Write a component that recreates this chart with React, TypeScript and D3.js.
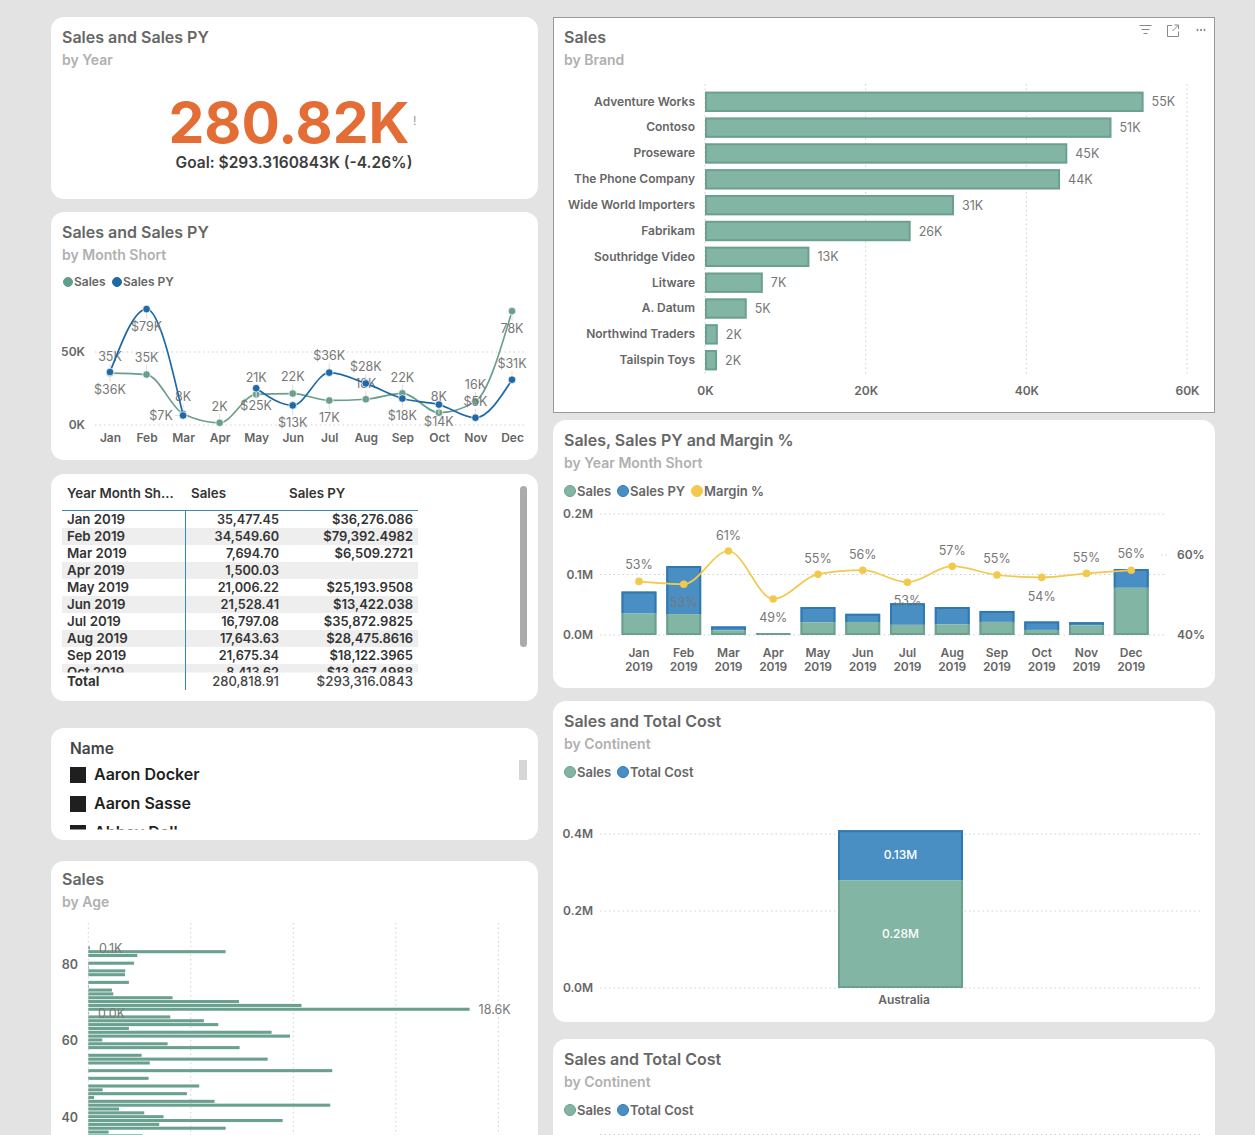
import { useEffect, useRef } from "react"
import * as d3 from "d3"

const FONT = "Inter, 'Open Sans', sans-serif"

const months = ["Jan", "Feb", "Mar", "Apr", "May", "Jun", "Jul", "Aug", "Sep", "Oct", "Nov", "Dec"]
const sales = [35.48, 34.55, 7.69, 1.5, 21.01, 21.53, 16.8, 17.64, 21.68, 8.41, 16.2, 78.0]
const salesPY = [36.28, 79.39, 6.51, null, 25.19, 13.42, 35.87, 28.48, 18.12, 13.97, 5.0, 31.0]
const margin = [0.534, 0.527, 0.61, 0.49, 0.552, 0.562, 0.532, 0.572, 0.55, 0.544, 0.554, 0.562]

const brands = [
  "Adventure Works", "Contoso", "Proseware", "The Phone Company", "Wide World Importers", "Fabrikam",
  "Southridge Video", "Litware", "A. Datum", "Northwind Traders", "Tailspin Toys",
]
const brandSales = [54.6, 50.6, 45.1, 44.2, 31.0, 25.6, 13.0, 7.2, 5.2, 1.6, 1.5]

const tableMonths = ["Jan 2019", "Feb 2019", "Mar 2019", "Apr 2019", "May 2019", "Jun 2019", "Jul 2019", "Aug 2019", "Sep 2019", "Oct 2019"]
const tableSales = ["35,477.45", "34,549.60", "7,694.70", "1,500.03", "21,006.22", "21,528.41", "16,797.08", "17,643.63", "21,675.34", "8,413.62"]
const tablePY = ["$36,276.086", "$79,392.4982", "$6,509.2721", "", "$25,193.9508", "$13,422.038", "$35,872.9825", "$28,475.8616", "$18,122.3965", "$13,967.4988"]

const names = ["Aaron Docker", "Aaron Sasse", "Abbey Dell"]

const ages = [84, 83, 82, 80, 79, 78, 77, 75, 74, 73, 72, 71, 70, 69, 68, 67, 66, 65, 64, 63, 62, 61, 60, 59, 58, 56, 55, 54, 52, 50, 48, 47, 46, 45, 44, 43, 42, 41, 40, 39, 38, 37, 36, 35]
const ageSales = [0.08, 6.7, 2.39, 2.23, 0.03, 1.8, 1.79, 1.98, 0.03, 1.15, 1.22, 4.11, 7.35, 10.4, 18.6, 0.03, 4.0, 5.64, 6.34, 1.98, 8.94, 9.84, 0.68, 3.87, 7.38, 2.6, 8.75, 3.0, 11.9, 2.94, 5.41, 0.7, 4.81, 0.28, 6.16, 11.8, 1.5, 2.73, 3.67, 9.48, 3.46, 6.7, 0.99, 2.65]
const labelledAges = [84, 68, 67]

const continentSales = 0.28
const continentCost = 0.13

// label offsets from the point, per month
const salesLabelDy = [-17, -17, -17, -16, -17, -17, 17, -16, -16, -16, -17, 17]
const pyLabelDy = [17, 17, 0, 0, 17, 17, -17, -17, 17, 17, -16, -16]
const marginLabelDy = [-17, 18, -16, 18, -16, -16, 18, -16, -17, 19, -16, -17]

const C_SALES = "#82b5a4"
const C_SALES_DARK = "#6b9f8e"
const C_PY = "#4a8fc4"
const C_PY_DARK = "#2f78b2"
const C_LINE_PY = "#1f6aa5"
const C_MARGIN = "#f2c94c"
const GRID = "#cfcfcf"
const LABEL = "#777777"
const AXIS = "#666666"

type G = d3.Selection<SVGGElement, unknown, null, undefined>

function txt(g: G, x: number, y: number, s: string, size: number, weight: number, fill: string, anchor = "start") {
  return g.append("text")
    .attr("x", x).attr("y", y)
    .attr("font-size", size).attr("font-weight", weight)
    .attr("fill", fill).attr("text-anchor", anchor)
    .text(s)
}

function title(g: G, x: number, y: number, a: string, b: string) {
  txt(g, x, y, a, 16, 600, "#666666")
  txt(g, x, y + 22, b, 14, 600, "#b0b0b0")
}

function dotted(g: G, x1: number, y1: number, x2: number, y2: number) {
  g.append("line")
    .attr("x1", x1).attr("y1", y1).attr("x2", x2).attr("y2", y2)
    .attr("stroke", GRID).attr("stroke-width", 1).attr("stroke-dasharray", "1.5 3")
}

function legendDot(g: G, x: number, y: number, r: number, color: string, dark: string, label: string, size: number) {
  g.append("circle").attr("cx", x).attr("cy", y).attr("r", r).attr("fill", color).attr("stroke", dark).attr("stroke-width", 1)
  txt(g, x + r + 1.5, y + size * 0.36, label, size, 600, "#666666")
}

// stacked segment: fill plus an inner edge on three sides, the side facing the other segment stays open
function segment(g: G, x: number, y0: number, y1: number, w: number, fill: string, stroke: string, sw: number, open: "top" | "bottom") {
  g.append("rect").attr("x", x).attr("y", y0).attr("width", w).attr("height", y1 - y0).attr("fill", fill)
  const p = d3.path()
  const i = sw / 2
  if (open === "bottom") {
    p.moveTo(x + i, y1)
    p.lineTo(x + i, y0 + i)
    p.lineTo(x + w - i, y0 + i)
    p.lineTo(x + w - i, y1)
  } else {
    p.moveTo(x + i, y0)
    p.lineTo(x + i, y1 - i)
    p.lineTo(x + w - i, y1 - i)
    p.lineTo(x + w - i, y0)
  }
  g.append("path").attr("d", p.toString()).attr("fill", "none").attr("stroke", stroke).attr("stroke-width", sw)
}

// d3 axis without the domain and tick marks, text styled like the rest of the page
function styleAxis(sel: G, size: number, weight: number, fill: string) {
  sel.attr("font-family", FONT)
  sel.select(".domain").remove()
  sel.selectAll(".tick line").remove()
  sel.selectAll("text").attr("font-size", size).attr("font-weight", weight).attr("fill", fill)
}

export default function App() {
  const svgRef = useRef<SVGSVGElement>(null)

  useEffect(() => {
    const svg = d3.select(svgRef.current)
    svg.selectAll("*").remove()
    const root = svg.append("g").attr("font-family", FONT) as unknown as G

    // Clip paths for the cut off table row and slicer row
    const defs = svg.append("defs")
    defs.append("clipPath").attr("id", "table-clip").append("rect").attr("x", 55).attr("y", 511).attr("width", 370).attr("height", 161.5)
    defs.append("clipPath").attr("id", "slicer-clip").append("rect").attr("x", 55).attr("y", 760).attr("width", 460).attr("height", 69.5)

    // Cards
    const cards = [
      [51, 17, 487, 182], [51, 212, 487, 248], [51, 474, 487, 227], [51, 728, 487, 112], [51, 861, 487, 300],
      [553, 420, 662, 268], [553, 701, 662, 321], [553, 1039, 662, 120],
    ]
    root.selectAll("rect.card").data(cards).enter().append("rect")
      .attr("class", "card")
      .attr("x", d => d[0]).attr("y", d => d[1]).attr("width", d => d[2]).attr("height", d => d[3])
      .attr("rx", 13).attr("fill", "white")
    root.append("rect").attr("x", 553.5).attr("y", 17.5).attr("width", 661).attr("height", 395)
      .attr("fill", "white").attr("stroke", "#9a9a9a").attr("stroke-width", 1)

    // KPI card
    title(root, 62, 43, "Sales and Sales PY", "by Year")
    txt(root, 289, 143, "280.82K", 57, 700, "#e46c35", "middle")
    txt(root, 413, 125, "!", 12, 400, "#999999")
    txt(root, 294, 168, "Goal: $293.3160843K (-4.26%)", 15.5, 600, "#3d3d3d", "middle")

    // Monthly line chart
    title(root, 62, 238, "Sales and Sales PY", "by Month Short")
    legendDot(root, 68, 282, 4.5, "#5f9e8f", "#5f9e8f", "Sales", 12)
    legendDot(root, 117, 282, 4.5, C_LINE_PY, C_LINE_PY, "Sales PY", 12)

    const xMonth = d3.scalePoint<string>().domain(months).range([110, 512])
    const yMonth = d3.scaleLinear().domain([0, 50]).range([425, 352])
    yMonth.ticks(1).forEach(t => dotted(root, 95, yMonth(t), 527, yMonth(t)))
    const monthAxisY = root.append("g").attr("transform", "translate(85,0)")
      .call(d3.axisLeft(yMonth).tickValues([0, 50]).tickSize(0).tickPadding(0).tickFormat(d => `${d}K`) as any) as unknown as G
    styleAxis(monthAxisY, 12, 600, AXIS)
    const monthAxisX = root.append("g").attr("transform", "translate(0,433)")
      .call(d3.axisBottom(xMonth).tickSize(0).tickPadding(0) as any) as unknown as G
    styleAxis(monthAxisX, 12, 600, AXIS)

    const monthLine = d3.line<number | null>()
      .defined(d => d !== null)
      .x((_, i) => xMonth(months[i])!)
      .y(d => yMonth(d as number))
      .curve(d3.curveMonotoneX)

    const drawMonthSeries = (vals: (number | null)[], color: string, dys: number[], prefix: string) => {
      root.append("path").attr("d", monthLine(vals)!)
        .attr("fill", "none").attr("stroke", color).attr("stroke-width", 1.7)
      vals.forEach((v, i) => {
        if (v === null) return
        const x = xMonth(months[i])!
        const y = yMonth(v)
        const dy = dys[i]
        if (dy !== 0) {
          root.append("line").attr("x1", x).attr("x2", x).attr("y1", y).attr("y2", y + dy * 0.55)
            .attr("stroke", "#dddddd")
        } else {
          root.append("line").attr("x1", x).attr("x2", x - 8).attr("y1", y).attr("y2", y)
            .attr("stroke", "#dddddd")
        }
        root.append("circle").attr("cx", x).attr("cy", y).attr("r", 3.8)
          .attr("fill", color).attr("stroke", "white").attr("stroke-opacity", 0.7).attr("stroke-width", 1)
        const lx = dy === 0 ? x - 22 : x
        txt(root, lx, y + dy + 4.5, `${prefix}${Math.round(v)}K`, 12.5, 400, LABEL, "middle")
      })
    }
    drawMonthSeries(sales, "#6a9e8d", salesLabelDy, "")
    drawMonthSeries(salesPY, C_LINE_PY, pyLabelDy, "$")

    // Table
    root.selectAll("rect.stripe").data(tableMonths.filter((_, i) => i % 2 === 1)).enter().append("rect")
      .attr("class", "stripe")
      .attr("x", 62).attr("width", 356).attr("height", 17)
      .attr("y", (_, i) => 528 + i * 34)
      .attr("fill", "#eeeeee")
      .attr("clip-path", "url(#table-clip)")
    txt(root, 67, 498, "Year Month Sh...", 13.3, 600, "#333333")
    txt(root, 191, 498, "Sales", 13.3, 600, "#333333")
    txt(root, 289, 498, "Sales PY", 13.3, 600, "#333333")
    const rows = root.append("g").attr("clip-path", "url(#table-clip)") as unknown as G
    tableMonths.forEach((m, i) => {
      const y = 524 + i * 17
      txt(rows, 67, y, m, 13.3, 600, "#333333")
      txt(rows, 279, y, tableSales[i], 12.7, 600, "#333333", "end")
      txt(rows, 413, y, tablePY[i], 13, 600, "#333333", "end")
    })
    txt(root, 67, 686, "Total", 13.3, 700, "#333333")
    txt(root, 279, 686, "280,818.91", 13, 500, "#444444", "end")
    txt(root, 413, 686, "$293,316.0843", 13.3, 500, "#444444", "end")
    root.append("line").attr("x1", 62).attr("x2", 418).attr("y1", 510.5).attr("y2", 510.5).attr("stroke", "#3a86b5")
    root.append("line").attr("x1", 185.5).attr("x2", 185.5).attr("y1", 510).attr("y2", 690).attr("stroke", "#3a86b5")
    root.append("rect").attr("x", 520).attr("y", 486).attr("width", 7).attr("height", 161).attr("rx", 3.5).attr("fill", "#ababab")

    // Name slicer
    txt(root, 70, 754, "Name", 15.5, 600, "#444444")
    const slicer = root.append("g").attr("clip-path", "url(#slicer-clip)") as unknown as G
    names.forEach((n, i) => {
      const y = 767 + i * 29
      slicer.append("rect").attr("x", 70).attr("y", y).attr("width", 16).attr("height", 16).attr("fill", "#1f1f1f")
      txt(slicer, 94, y + 13, n, 16, 600, "#1f1f1f")
    })
    root.append("rect").attr("x", 519).attr("y", 760).attr("width", 8).attr("height", 20).attr("fill", "#d6d6d6")

    // Sales by age
    title(root, 62, 885, "Sales", "by Age")
    const xAge = d3.scaleLinear().domain([0, 20]).range([88.3, 498.3])
    const yAge = d3.scaleLinear().domain([80, 40]).range([963.2, 1116.7])
    xAge.ticks(4).forEach(t => dotted(root, xAge(t), 923, xAge(t), 1135))
    const ageAxis = root.append("g").attr("transform", "translate(78,1)")
      .call(d3.axisLeft(yAge).tickValues([80, 60, 40]).tickSize(0).tickPadding(0) as any) as unknown as G
    styleAxis(ageAxis, 12.5, 600, AXIS)
    const ageBarH = (yAge(40) - yAge(41)) * 0.8
    root.selectAll("rect.age").data(ages).enter().append("rect")
      .attr("class", "age")
      .attr("x", xAge(0))
      .attr("y", d => yAge(d) - ageBarH / 2)
      .attr("width", (_, i) => xAge(ageSales[i]) - xAge(0))
      .attr("height", ageBarH)
      .attr("fill", "#69a08f")
    labelledAges.forEach(a => {
      const v = ageSales[ages.indexOf(a)]
      txt(root, xAge(v) + 9, yAge(a) + 5, `${v.toFixed(1)}K`, 12.5, 400, LABEL)
    })

    // Sales by brand
    title(root, 564, 43, "Sales", "by Brand")
    const xBrand = d3.scaleLinear().domain([0, 60]).range([705, 1187])
    const yBrand = d3.scaleBand<string>().domain(brands).range([89, 373]).paddingInner(0.21).paddingOuter(0.1)
    xBrand.ticks(3).forEach(t => dotted(root, xBrand(t), 84, xBrand(t), 375))
    const brandAxisX = root.append("g").attr("transform", "translate(0,386)")
      .call(d3.axisBottom(xBrand).tickValues([0, 20, 40, 60]).tickSize(0).tickPadding(0).tickFormat(d => `${d}K`) as any) as unknown as G
    styleAxis(brandAxisX, 12, 600, AXIS)
    const brandAxisY = root.append("g").attr("transform", "translate(695,0)")
      .call(d3.axisLeft(yBrand).tickSize(0).tickPadding(0) as any) as unknown as G
    styleAxis(brandAxisY, 12, 600, AXIS)
    root.selectAll("rect.brand").data(brands).enter().append("rect")
      .attr("class", "brand")
      .attr("x", xBrand(0) + 1)
      .attr("y", d => yBrand(d)! + 1)
      .attr("width", (_, i) => xBrand(brandSales[i]) - xBrand(0) - 2)
      .attr("height", yBrand.bandwidth() - 2)
      .attr("fill", C_SALES).attr("stroke", C_SALES_DARK).attr("stroke-width", 2)
    brands.forEach((b, i) => {
      txt(root, xBrand(brandSales[i]) + 8, yBrand(b)! + yBrand.bandwidth() / 2 + 4.5, `${Math.round(brandSales[i])}K`, 12.5, 400, LABEL)
    })

    // Header icons of the focused visual
    const icons = root.append("g").attr("fill", "none").attr("stroke", "#888888").attr("stroke-width", 1)
    icons.append("path").attr("d", "M1139.5 25.5h12M1141.5 29.5h8M1143.5 33.5h4")
    icons.append("path").attr("d", "M1172 25.5h-4.5v11h11v-5M1172.5 31l6-6M1174.5 25h4v4")
    icons.selectAll("circle").data([1197.5, 1201, 1204.5]).enter().append("circle")
      .attr("cx", d => d).attr("cy", 30).attr("r", 0.7).attr("fill", "#888888")

    // Sales, Sales PY and Margin %
    title(root, 564, 446, "Sales, Sales PY and Margin %", "by Year Month Short")
    legendDot(root, 570, 491, 5.5, C_SALES, C_SALES_DARK, "Sales", 13)
    legendDot(root, 623, 491, 5.5, C_PY, C_PY_DARK, "Sales PY", 13)
    legendDot(root, 697, 491, 5.5, C_MARGIN, C_MARGIN, "Margin %", 13)

    const xCombo = d3.scaleBand<string>().domain(months).range([616.6, 1153.6]).paddingInner(0.22).paddingOuter(0.11)
    const yCombo = d3.scaleLinear().domain([0, 200]).range([635, 514])
    const yPct = d3.scaleLinear().domain([0.4, 0.6]).range([635, 555])
    yCombo.ticks(2).forEach(t => dotted(root, 600, yCombo(t), 1165, yCombo(t)))
    dotted(root, 1161, yPct(0.6), 1170, yPct(0.6))
    const comboY = root.append("g").attr("transform", "translate(593,0)")
      .call(d3.axisLeft(yCombo).tickValues([0, 100, 200]).tickSize(0).tickPadding(0).tickFormat(d => `${d3.format(".1f")(+d / 1000)}M`) as any) as unknown as G
    styleAxis(comboY, 12, 600, AXIS)
    const comboY2 = root.append("g").attr("transform", "translate(1177,0)")
      .call(d3.axisRight(yPct).tickValues([0.4, 0.6]).tickSize(0).tickPadding(0).tickFormat(d3.format(".0%") as any) as any) as unknown as G
    styleAxis(comboY2, 12, 600, AXIS)
    const comboX = root.append("g").attr("transform", "translate(0,648)")
      .call(d3.axisBottom(xCombo).tickSize(0).tickPadding(0) as any) as unknown as G
    styleAxis(comboX, 12, 600, AXIS)
    comboX.selectAll(".tick").append("text")
      .attr("y", 23).attr("text-anchor", "middle")
      .attr("font-size", 12).attr("font-weight", 600).attr("fill", AXIS)
      .text("2019")

    months.forEach((m, i) => {
      const s = sales[i]
      const p = salesPY[i] ?? 0
      if (p > 0) {
        segment(root, xCombo(m)!, yCombo(s + p), yCombo(s), xCombo.bandwidth(), C_PY, C_PY_DARK, 2, "bottom")
      }
      segment(root, xCombo(m)!, yCombo(s), yCombo(0), xCombo.bandwidth(), C_SALES, C_SALES_DARK, 2, "top")
    })
    const comboCx = (m: string) => xCombo(m)! + xCombo.bandwidth() / 2
    const marginLine = d3.line<number>()
      .x((_, i) => comboCx(months[i]))
      .y(d => yPct(d))
      .curve(d3.curveMonotoneX)
    root.append("path").attr("d", marginLine(margin)!)
      .attr("fill", "none").attr("stroke", C_MARGIN).attr("stroke-width", 1.7)
    margin.forEach((v, i) => {
      const x = comboCx(months[i])
      root.append("circle").attr("cx", x).attr("cy", yPct(v)).attr("r", 3.8).attr("fill", C_MARGIN)
      txt(root, x, yPct(v) + marginLabelDy[i] + 4.5, d3.format(".0%")(v), 12.5, 400, LABEL, "middle")
    })

    // Sales and Total Cost
    title(root, 564, 727, "Sales and Total Cost", "by Continent")
    legendDot(root, 570, 772, 5.5, C_SALES, C_SALES_DARK, "Sales", 13)
    legendDot(root, 623, 772, 5.5, C_PY, C_PY_DARK, "Total Cost", 13)
    const yCont = d3.scaleLinear().domain([0, 0.4]).range([988, 834])
    yCont.ticks(2).forEach(t => dotted(root, 600, yCont(t), 1200, yCont(t)))
    const contAxis = root.append("g").attr("transform", "translate(593,0)")
      .call(d3.axisLeft(yCont).tickValues([0, 0.2, 0.4]).tickSize(0).tickPadding(0).tickFormat(d => `${d3.format(".1f")(d as number)}M`) as any) as unknown as G
    styleAxis(contAxis, 12, 600, AXIS)
    const xCont = d3.scaleBand<string>().domain(["Australia"]).range([775, 1026]).padding(0.335)
    const bx = xCont("Australia")!
    const bw = xCont.bandwidth()
    segment(root, bx, yCont(continentSales + continentCost), yCont(continentSales), bw, C_PY, C_PY_DARK, 2, "bottom")
    segment(root, bx, yCont(continentSales), yCont(0), bw, C_SALES, C_SALES_DARK, 2, "top")
    txt(root, bx + bw / 2, yCont(continentSales + continentCost / 2) + 4, `${continentCost.toFixed(2)}M`, 12, 500, "white", "middle")
    txt(root, bx + bw / 2, yCont(continentSales / 2) + 4, `${continentSales.toFixed(2)}M`, 12, 500, "white", "middle")
    txt(root, bx + bw / 2 + 3.5, 1004, "Australia", 12, 600, AXIS, "middle")

    // Second Sales and Total Cost card, cut off by the page
    title(root, 564, 1065, "Sales and Total Cost", "by Continent")
    legendDot(root, 570, 1110, 5.5, C_SALES, C_SALES_DARK, "Sales", 13)
    legendDot(root, 623, 1110, 5.5, C_PY, C_PY_DARK, "Total Cost", 13)
    dotted(root, 600, 1134.5, 1200, 1134.5)
  }, [])

  return (
    <svg
      ref={svgRef}
      width={1255}
      height={1135}
      style={{ position: "absolute", left: 0, top: 0, display: "block", background: "#e3e3e3" }}
    />
  )
}
